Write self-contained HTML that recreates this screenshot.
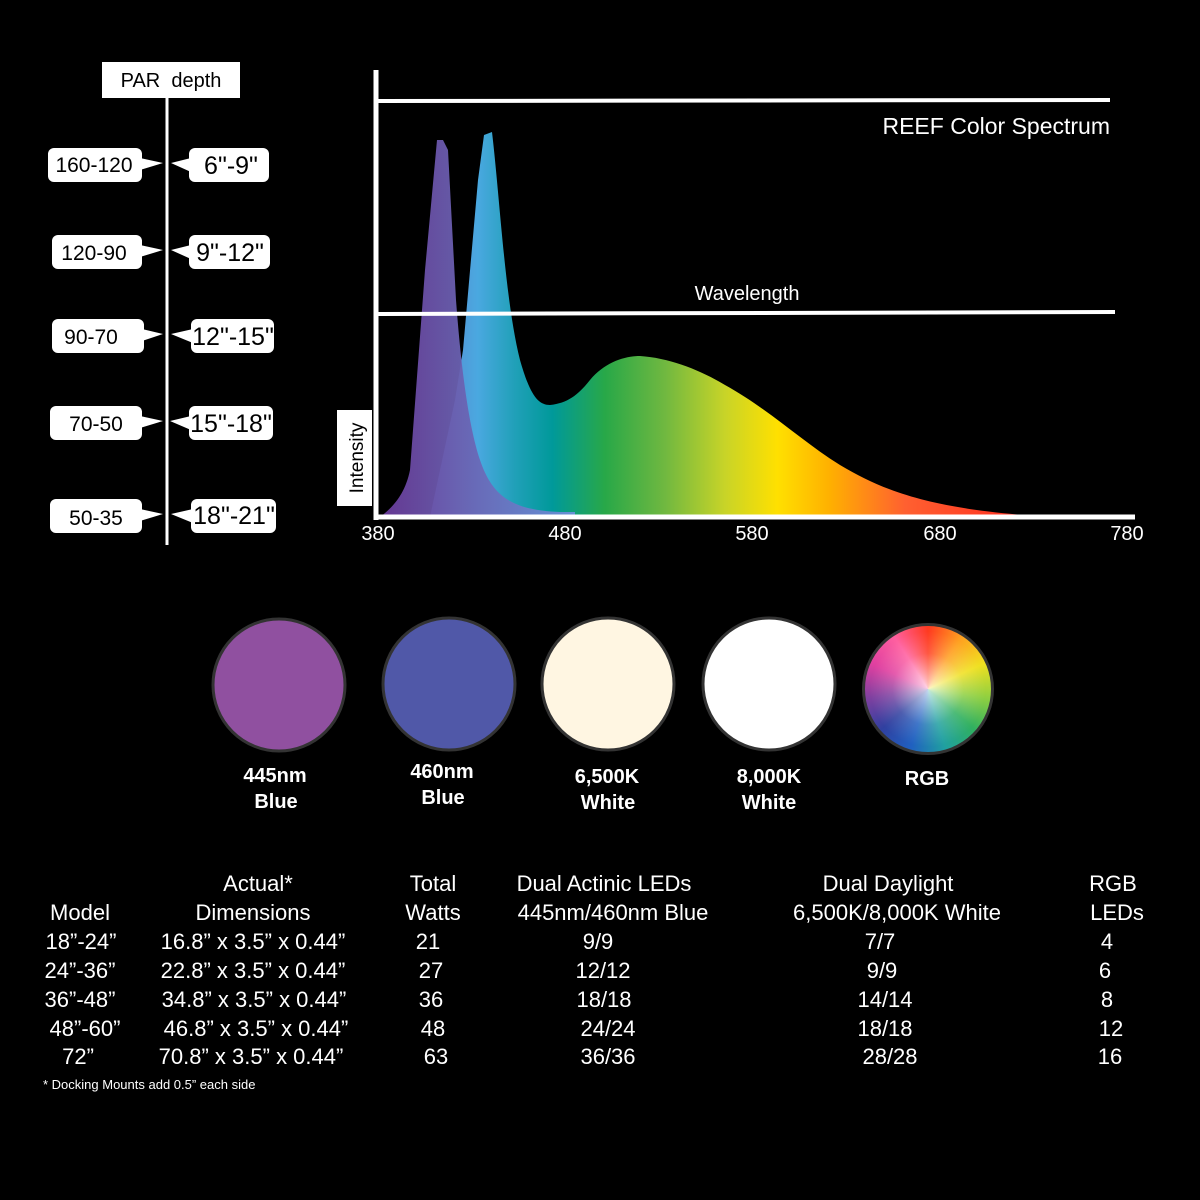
<!DOCTYPE html>
<html><head><meta charset="utf-8"><style>
html,body{margin:0;padding:0;background:#000;}
body{width:1200px;height:1200px;position:relative;overflow:hidden;font-family:"Liberation Sans",sans-serif;}
svg{position:absolute;left:0;top:0;}
.rgb{position:absolute;left:862px;top:623px;width:126px;height:126px;border-radius:50%;border:3px solid #333;
background:radial-gradient(circle, rgba(255,255,255,0.75) 0%, rgba(255,255,255,0.15) 40%, rgba(255,255,255,0) 65%),conic-gradient(from 0deg,#ff3a20,#ffa020,#f0e020,#90d040,#30b060,#20a0a0,#2060c0,#3040a0,#8040a0,#e040a0,#ff60a0,#ff3a20);}
</style></head><body>
<svg width="1200" height="1200" viewBox="0 0 1200 1200" font-family="Liberation Sans, sans-serif">
<defs>
<linearGradient id="sp" x1="380" y1="0" x2="1130" y2="0" gradientUnits="userSpaceOnUse">
<stop offset="0" stop-color="#6a4aa0"/>
<stop offset="0.08" stop-color="#5a8ad0"/>
<stop offset="0.13" stop-color="#4aa8e0"/>
<stop offset="0.18" stop-color="#20a0b8"/>
<stop offset="0.23" stop-color="#00999a"/>
<stop offset="0.3" stop-color="#28a848"/>
<stop offset="0.38" stop-color="#70b840"/>
<stop offset="0.46" stop-color="#c8d428"/>
<stop offset="0.53" stop-color="#ffe000"/>
<stop offset="0.6" stop-color="#ffb000"/>
<stop offset="0.7" stop-color="#ff6030"/>
<stop offset="0.85" stop-color="#ff3020"/>
<stop offset="1" stop-color="#ff2020"/>
</linearGradient>
<linearGradient id="pp" x1="380" y1="0" x2="575" y2="0" gradientUnits="userSpaceOnUse">
<stop offset="0" stop-color="#6a3a9a"/>
<stop offset="0.4" stop-color="#6a60b0"/>
<stop offset="1" stop-color="#6a90d8"/>
</linearGradient>
</defs>

<rect x="102" y="62" width="138" height="36" fill="#fff"/>
<text x="171" y="87" font-size="20" text-anchor="middle" fill="#000">PAR&#160; depth</text>
<line x1="167" y1="98" x2="167" y2="545" stroke="#fff" stroke-width="3"/>

<g font-size="21" fill="#000" text-anchor="middle">
<g>
<rect x="48" y="148" width="94" height="34" rx="6" fill="#fff"/><polygon points="140,158 163,163 140,170" fill="#fff"/>
<text x="94" y="172">160-120</text>
<rect x="189" y="148" width="80" height="34" rx="6" fill="#fff"/><polygon points="191,158 171,163 191,172" fill="#fff"/>
<text x="231" y="174" font-size="25">6"-9"</text>
</g>
<g>
<rect x="52" y="235" width="90" height="34" rx="6" fill="#fff"/><polygon points="140,245 163,250 140,257" fill="#fff"/>
<text x="94" y="260">120-90</text>
<rect x="189" y="235" width="81" height="34" rx="6" fill="#fff"/><polygon points="191,245 171,250 191,259" fill="#fff"/>
<text x="230" y="261" font-size="25">9"-12"</text>
</g>
<g>
<rect x="52" y="319" width="92" height="34" rx="6" fill="#fff"/><polygon points="142,329 163,334 142,341" fill="#fff"/>
<text x="91" y="344">90-70</text>
<rect x="191" y="319" width="83" height="34" rx="6" fill="#fff"/><polygon points="193,329 171,334 193,343" fill="#fff"/>
<text x="233" y="345" font-size="25">12"-15"</text>
</g>
<g>
<rect x="50" y="406" width="92" height="34" rx="6" fill="#fff"/><polygon points="140,416 163,421 140,428" fill="#fff"/>
<text x="96" y="431">70-50</text>
<rect x="189" y="406" width="84" height="34" rx="6" fill="#fff"/><polygon points="191,416 170,421 191,430" fill="#fff"/>
<text x="231" y="432" font-size="25">15"-18"</text>
</g>
<g>
<rect x="50" y="499" width="92" height="34" rx="6" fill="#fff"/><polygon points="140,509 163,514 140,521" fill="#fff"/>
<text x="96" y="525">50-35</text>
<rect x="191" y="499" width="85" height="34" rx="6" fill="#fff"/><polygon points="193,509 171,514 193,523" fill="#fff"/>
<text x="234" y="524" font-size="25">18"-21"</text>
</g>
</g>

<path d="M430,517 L455,400 L463,350 L478,180 L484,135 L492,132 C500,200 505,300 520,360 C530,395 538,405 550,405 C568,403 578,395 590,380 C605,362 625,356 640,356 C670,358 700,370 725,385 C770,410 800,440 840,465 C890,495 940,510 1050,517 Z" fill="url(#sp)"/>
<path d="M380,517 C392,508 405,495 410,470 L425,270 L437,140 L443,140 L448,150 L456,300 C462,380 470,430 480,460 C492,495 510,510 560,512 L575,512 L575,517 Z" fill="url(#pp)" opacity="0.95"/>

<line x1="376" y1="70" x2="376" y2="520" stroke="#fff" stroke-width="5"/>
<line x1="374" y1="517" x2="1135" y2="517" stroke="#fff" stroke-width="5"/>
<line x1="378" y1="101" x2="1110" y2="100" stroke="#fff" stroke-width="4"/>
<line x1="378" y1="314" x2="1115" y2="312" stroke="#fff" stroke-width="4"/>
<text x="1110" y="134" font-size="23" fill="#fff" text-anchor="end">REEF Color Spectrum</text>
<text x="747" y="300" font-size="20" fill="#fff" text-anchor="middle">Wavelength</text>
<rect x="337" y="410" width="35" height="96" fill="#fff"/>
<text transform="translate(363,458) rotate(-90)" font-size="19" fill="#000" text-anchor="middle">Intensity</text>
<g font-size="20" fill="#fff" text-anchor="middle">
<text x="378" y="540">380</text><text x="565" y="540">480</text><text x="752" y="540">580</text><text x="940" y="540">680</text><text x="1127" y="540">780</text>
</g>

<circle cx="279" cy="685" r="66" fill="#9050a0" stroke="#333" stroke-width="3"/>
<circle cx="449" cy="684" r="66" fill="#5058a8" stroke="#333" stroke-width="3"/>
<circle cx="608" cy="684" r="66" fill="#fff6e2" stroke="#333" stroke-width="3"/>
<circle cx="769" cy="684" r="66" fill="#ffffff" stroke="#333" stroke-width="3"/>
<g font-size="20" font-weight="bold" fill="#fff" text-anchor="middle">
<text x="275" y="782">445nm</text><text x="276" y="808">Blue</text>
<text x="442" y="778">460nm</text><text x="443" y="804">Blue</text>
<text x="607" y="783">6,500K</text><text x="608" y="809">White</text>
<text x="769" y="783">8,000K</text><text x="769" y="809">White</text>
<text x="927" y="785">RGB</text>
</g>

<g font-size="22" fill="#fff" text-anchor="middle">
<text x="258" y="891">Actual*</text><text x="433" y="891">Total</text><text x="604" y="891">Dual Actinic LEDs</text><text x="888" y="891">Dual Daylight</text><text x="1113" y="891">RGB</text>
<text x="80" y="920">Model</text><text x="253" y="920">Dimensions</text><text x="433" y="920">Watts</text><text x="613" y="920">445nm/460nm Blue</text><text x="897" y="920">6,500K/8,000K White</text><text x="1117" y="920">LEDs</text>
<text x="81" y="949">18”-24”</text><text x="253" y="949">16.8” x 3.5” x 0.44”</text><text x="428" y="949">21</text><text x="598" y="949">9/9</text><text x="880" y="949">7/7</text><text x="1107" y="949">4</text>
<text x="80" y="978">24”-36”</text><text x="253" y="978">22.8” x 3.5” x 0.44”</text><text x="431" y="978">27</text><text x="603" y="978">12/12</text><text x="882" y="978">9/9</text><text x="1105" y="978">6</text>
<text x="80" y="1007">36”-48”</text><text x="254" y="1007">34.8” x 3.5” x 0.44”</text><text x="431" y="1007">36</text><text x="604" y="1007">18/18</text><text x="885" y="1007">14/14</text><text x="1107" y="1007">8</text>
<text x="85" y="1036">48”-60”</text><text x="256" y="1036">46.8” x 3.5” x 0.44”</text><text x="433" y="1036">48</text><text x="608" y="1036">24/24</text><text x="885" y="1036">18/18</text><text x="1111" y="1036">12</text>
<text x="78" y="1064">72”</text><text x="251" y="1064">70.8” x 3.5” x 0.44”</text><text x="436" y="1064">63</text><text x="608" y="1064">36/36</text><text x="890" y="1064">28/28</text><text x="1110" y="1064">16</text>
</g>
<text x="43" y="1089" font-size="13" fill="#fff">* Docking Mounts add 0.5” each side</text>
</svg>
<div class="rgb"></div>
</body></html>
